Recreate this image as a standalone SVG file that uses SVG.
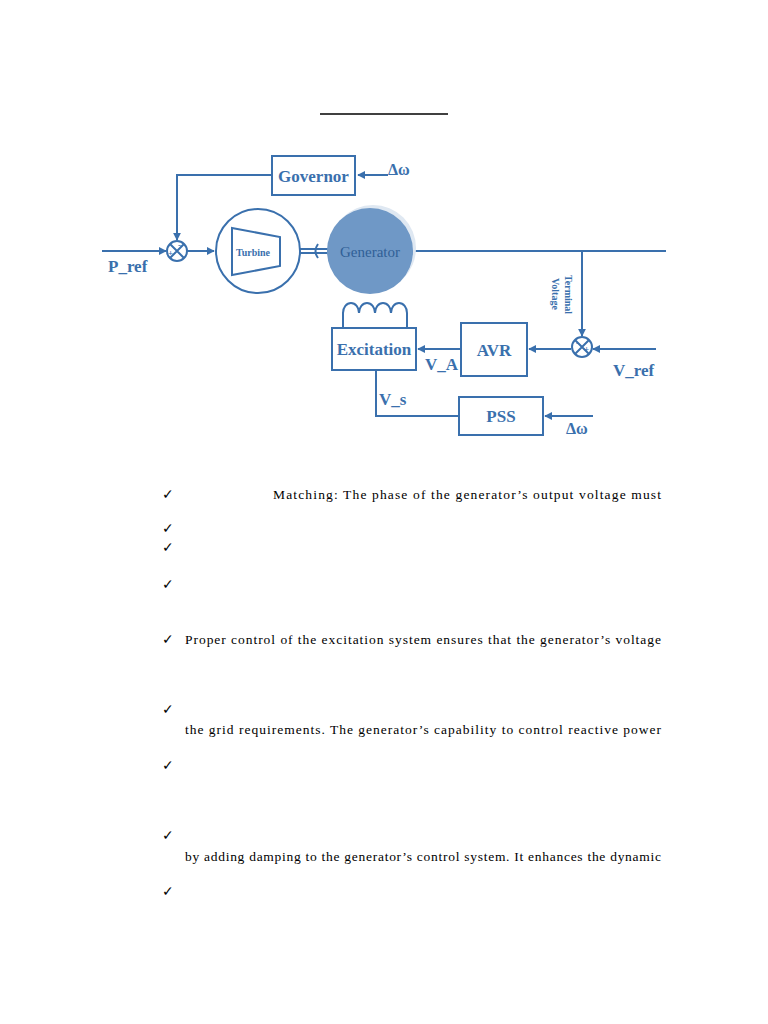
<svg xmlns="http://www.w3.org/2000/svg" width="768" height="1024" viewBox="0 0 768 1024">
<defs>
<marker id="ah" viewBox="0 0 10 10" refX="9" refY="5" markerWidth="4" markerHeight="4" orient="auto"><path d="M0,0 L10,5 L0,10 z" fill="#3a70ad"/></marker>
<style>
.b{fill:#fff;stroke:#3a70ad;stroke-width:2}
.l{fill:none;stroke:#3a70ad;stroke-width:2}
.t{font-family:"Liberation Serif",serif;font-weight:bold;fill:#3a70ad}
.p{font-family:"Liberation Serif",serif;font-size:13.5px;fill:#000}
</style>
</defs>
<rect width="768" height="1024" fill="#fff"/>
<line x1="320" y1="114" x2="448" y2="114" stroke="#000" stroke-width="1.5"/>
<g id="connectors">
<line class="l" x1="388" y1="175" x2="358" y2="175" marker-end="url(#ah)"/>
<polyline class="l" points="272,175 177,175 177,240" marker-end="url(#ah)"/>
<line class="l" x1="102" y1="251" x2="166" y2="251" marker-end="url(#ah)"/>
<line class="l" x1="187" y1="251" x2="214" y2="251" marker-end="url(#ah)"/>
<line class="l" x1="300" y1="249" x2="328" y2="249" stroke-width="1.5"/>
<line class="l" x1="300" y1="253" x2="328" y2="253" stroke-width="1.5"/>
<path class="l" d="M318,244 Q313,251 318,258" stroke-width="1.5"/>
<line class="l" x1="413" y1="251" x2="666" y2="251"/>
<line class="l" x1="582" y1="251" x2="582" y2="336" marker-end="url(#ah)"/>
<line class="l" x1="656" y1="349" x2="593" y2="349" marker-end="url(#ah)"/>
<line class="l" x1="571" y1="349" x2="529" y2="349" marker-end="url(#ah)"/>
<line class="l" x1="461" y1="349" x2="418" y2="349" marker-end="url(#ah)"/>
<polyline class="l" points="376,370 376,416 459,416"/>
<line class="l" x1="593" y1="416" x2="545" y2="416" marker-end="url(#ah)"/>
<path class="l" d="M343,328 L343,313 A8,10 0 0 1 359,313 A8,10 0 0 1 375,313 A8,10 0 0 1 391,313 A8,10 0 0 1 407,313 L407,328"/>
</g>
<g id="governor"><rect class="b" x="272" y="156" width="83" height="39"/><text class="t" x="313.5" y="182" font-size="17" text-anchor="middle">Governor</text></g>
<text class="t" x="388" y="175" font-size="16">Δω</text>
<g id="sum1"><circle class="b" cx="177" cy="251" r="10"/><path class="l" d="M170,244 L184,258 M184,244 L170,258" stroke-width="1.5"/><text class="t" x="168" y="256" font-size="9">+</text><text class="t" x="178" y="248" font-size="9">-</text></g>
<text class="t" x="108" y="272" font-size="17">P_ref</text>
<g id="turbine"><circle class="b" cx="258" cy="251" r="42"/><path class="l" d="M232,228 L280,237 L280,266 L232,275 Z" stroke-width="1.5"/><text class="t" x="253" y="256" font-size="10" text-anchor="middle">Turbine</text></g>
<g id="generator"><circle cx="373" cy="248" r="43" fill="#dfe8f2"/><circle cx="370" cy="251" r="43" fill="#6f98c6"/><text x="370" y="257" font-family="Liberation Serif,serif" font-size="15" fill="#2f5f96" text-anchor="middle">Generator</text></g>
<text class="t" x="565" y="275" font-size="10" font-weight="normal" transform="rotate(90 565 275)">Terminal</text>
<text class="t" x="552" y="278" font-size="10" font-weight="normal" transform="rotate(90 552 278)">Voltage</text>
<g id="sum2"><circle class="b" cx="582" cy="347" r="10"/><path class="l" d="M575,340 L589,354 M589,340 L575,354" stroke-width="1.5"/><text class="t" x="576" y="346" font-size="9">-</text><text class="t" x="584" y="352" font-size="9">+</text></g>
<text class="t" x="613" y="376" font-size="17">V_ref</text>
<g id="avr"><rect class="b" x="461" y="323" width="66" height="53"/><text class="t" x="494" y="356" font-size="17" text-anchor="middle">AVR</text></g>
<text class="t" x="425" y="370" font-size="17">V_A</text>
<g id="excitation"><rect class="b" x="332" y="328" width="84" height="42"/><text class="t" x="374" y="355" font-size="17" text-anchor="middle">Excitation</text></g>
<text class="t" x="379" y="405" font-size="17">V_s</text>
<g id="pss"><rect class="b" x="459" y="397" width="84" height="38"/><text class="t" x="501" y="422" font-size="17" text-anchor="middle">PSS</text></g>
<text class="t" x="566" y="434" font-size="16">Δω</text>
<g class="p">
<text x="162" y="499">✓</text><text x="162" y="533">✓</text><text x="162" y="552">✓</text><text x="162" y="589">✓</text><text x="162" y="644">✓</text><text x="162" y="714">✓</text><text x="162" y="770">✓</text><text x="162" y="840">✓</text><text x="162" y="896">✓</text>
<text x="273" y="499" textLength="388" lengthAdjust="spacing">Matching: The phase of the generator’s output voltage must</text>
<text x="185" y="644" textLength="476" lengthAdjust="spacing">Proper control of the excitation system ensures that the generator’s voltage</text>
<text x="185" y="734" textLength="476" lengthAdjust="spacing">the grid requirements. The generator’s capability to control reactive power</text>
<text x="185" y="861" textLength="476" lengthAdjust="spacing">by adding damping to the generator’s control system. It enhances the dynamic</text>
</g>
</svg>
